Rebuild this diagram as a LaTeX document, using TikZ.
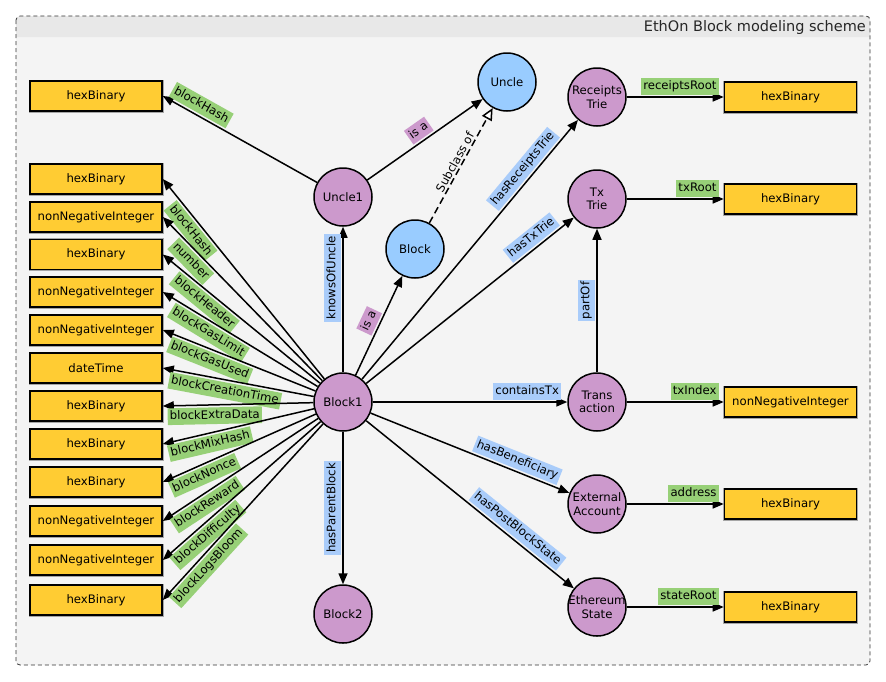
\documentclass[tikz,border=0pt]{standalone}
\usepackage{fontspec}
\setmainfont{DejaVu Sans}
\usetikzlibrary{arrows.meta}
\definecolor{cpurple}{HTML}{CC99CC}
\definecolor{cblue}{HTML}{99CCFF}
\definecolor{cyellow}{HTML}{FFCC33}
\definecolor{lgreen}{HTML}{97D077}
\definecolor{lblue}{HTML}{A9CCFA}
\definecolor{bodybg}{HTML}{F4F4F4}
\definecolor{bandbg}{HTML}{E8E8E8}
\begin{document}
\begin{tikzpicture}[x=1pt,y=-1pt,
  fs/.style={font=\fontsize{11.7}{13.5}\selectfont},
  pc/.style={circle, draw=black, line width=1.5pt, fill=cpurple, minimum size=58pt, inner sep=0pt, fs},
  bc/.style={pc, fill=cblue},
  ct/.style={align=center, fs, inner sep=0pt},
  db/.style={draw=black, line width=1.6pt, fill=cyellow, minimum width=132pt, minimum height=30pt, inner sep=0pt, fs, preaction={draw=black!35, line width=3pt}},
  lb/.style={fs, inner xsep=2.2pt, inner ysep=2.5pt, text height=9pt, text depth=2.7pt, outer xsep=0pt, outer ysep=2.5pt},
  gl/.style={lb, fill=lgreen},
  bl/.style={lb, fill=lblue},
  pl/.style={lb, fill=cpurple},
  ar/.style={line width=1.5pt, -{Triangle[length=11pt,width=9pt]}},
]
\useasboundingbox (0,0) rectangle (886,681);
% frame
\fill[bodybg, rounded corners=4pt] (16,16) rectangle (870,665);
\fill[bandbg, rounded corners=4pt] (16,37) -- (16,16) -- (870,16) -- (870,37);
\draw[black!80, line width=0.8pt, dash pattern=on 4pt off 3pt, rounded corners=4pt] (16,16) rectangle (870,665);
\node[font=\fontsize{14.5}{16}\selectfont, anchor=east, inner sep=0pt, text=black!85] (title) at (866,27) {EthOn Block modeling scheme};

% circles
\node[bc] (u) at (507,82) {Uncle};
\node[pc] (u1) at (343,197) {Uncle1};
\node[bc] (blk) at (415,249) {Block};
\node[pc] (b1) at (343,402) {Block1};
\node[pc] (b2) at (343,614) {Block2};
\node[pc, label={[ct]center:Receipts\\Trie}] (rt) at (597,97) {};
\node[pc, label={[ct]center:Tx\\Trie}] (tt) at (597,199) {};
\node[pc, label={[ct]center:Trans\\action}] (tx) at (597,402) {};
\node[pc, label={[ct]center:External\\Account}] (ea) at (597,504) {};
\node[pc, label={[ct]center:Ethereum\\State}] (es) at (597,607) {};

% right boxes
\node[db] (rtb) at (790.5,97) {hexBinary};
\node[db] (ttb) at (790.5,199) {hexBinary};
\node[db] (txb) at (790.5,402) {nonNegativeInteger};
\node[db] (eab) at (790.5,504) {hexBinary};
\node[db] (esb) at (790.5,607) {hexBinary};

% left boxes
\node[db] (l0) at (96,96) {hexBinary};
\foreach \i/\y/\t in {1/179/hexBinary,2/217/nonNegativeInteger,3/254.5/hexBinary,4/292/nonNegativeInteger,5/330/nonNegativeInteger,6/368/dateTime,7/406/hexBinary,8/444/hexBinary,9/482/hexBinary,10/521/nonNegativeInteger,11/560/nonNegativeInteger,12/600/hexBinary}
  \node[db] (l\i) at (96,\y) {\t};

% left edges
\foreach \i/\p/\t in {1/0.776/blockHash,2/0.776/number,3/0.692/blockHeader,4/0.669/blockGasLimit,5/0.666/blockGasUsed,6/0.576/blockCreationTime,7/0.656/blockExtraData,8/0.702/blockMixHash,9/0.756/blockNonce,10/0.752/blockReward,11/0.760/blockDifficulty,12/0.764/blockLogsBloom}
  \draw[ar] (b1) -- node[gl, sloped, below, pos=\p] {\t} (l\i.east);

\draw[ar] (u1) -- node[gl, sloped, above, pos=0.785] {blockHash} (l0.east);
\draw[ar] (u1) -- node[pl, sloped, above] {is a} (u);
\draw[line width=1.5pt, dash pattern=on 7pt off 4pt, -{Triangle[open, fill=white, length=12pt, width=11pt]}] (blk) -- node[fs, sloped, above, inner sep=1pt, outer sep=1.5pt] {Subclass of} (u);
\draw[ar] (b1) -- node[pl, sloped, above] {is a} (blk);
\draw[ar] (b1) -- node[bl, sloped, above, pos=0.649] {knowsOfUncle} (u1);
\draw[ar] (b1) -- node[bl, midway, rotate=90, anchor=south] {hasParentBlock} (b2);
\draw[ar] (b1) -- node[bl, sloped, above, pos=0.784] {hasReceiptsTrie} (rt);
\draw[ar] (b1) -- node[bl, sloped, above, pos=0.828] {hasTxTrie} (tt);
\draw[ar] (b1) -- node[bl, above, pos=0.794] {containsTx} (tx);
\draw[ar] (tx) -- node[bl, sloped, above, midway] {partOf} (tt);
\draw[ar] (b1) -- node[bl, sloped, above, pos=0.718] {hasBeneficiary} (ea);
\draw[ar] (b1) -- node[bl, sloped, above, pos=0.696] {hasPostBlockState} (es);

% right edges
\draw[ar] (rt) -- node[gl, pos=1, anchor=south east, xshift=-5pt] {receiptsRoot} (rtb.west);
\draw[ar] (tt) -- node[gl, pos=1, anchor=south east, xshift=-5pt] {txRoot} (ttb.west);
\draw[ar] (tx) -- node[gl, pos=1, anchor=south east, xshift=-5pt] {txIndex} (txb.west);
\draw[ar] (ea) -- node[gl, pos=1, anchor=south east, xshift=-5pt] {address} (eab.west);
\draw[ar] (es) -- node[gl, pos=1, anchor=south east, xshift=-5pt] {stateRoot} (esb.west);
\end{tikzpicture}
\end{document}
